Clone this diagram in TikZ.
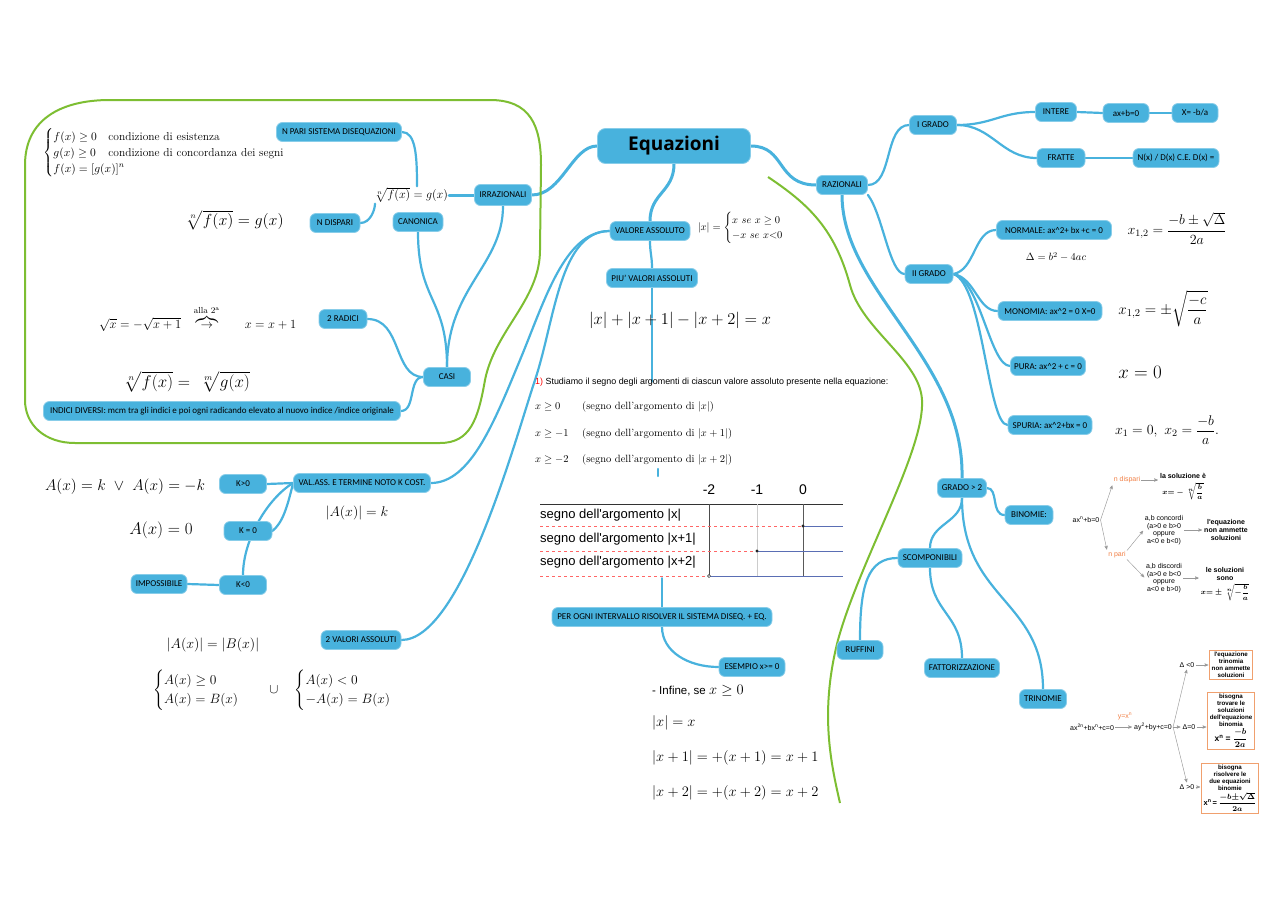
\documentclass[tikz,border=0pt]{standalone}
\usepackage{fix-cm}
\usepackage{amsmath,amssymb}
\usepackage{fontspec}
\setsansfont{Carlito}
\newfontfamily\headfont{Open Sans}
\newfontfamily\arialfont{Liberation Sans}
\usepackage{tikz}
\usetikzlibrary{arrows}
\usepackage{xcolor}

\definecolor{mapblue}{RGB}{72,178,221}
\definecolor{mapgreen}{RGB}{125,190,50}
\definecolor{noteorange}{RGB}{242,128,70}
\definecolor{boxorange}{RGB}{240,160,110}
\definecolor{signblue}{RGB}{90,110,180}

\pgfdeclarelayer{back}
\pgfsetlayers{back,main}

\begin{document}
\begin{tikzpicture}[x=1pt,y=-1pt,
  topic/.style={rectangle,rounded corners=6pt,fill=mapblue,draw=mapblue!65!white,
    line width=0.8pt,font=\sffamily\fontsize{9}{10.5}\selectfont,
    minimum height=19pt,inner xsep=2pt,inner ysep=2pt},
  conn/.style={draw=mapblue,line width=2.2pt,line cap=round},
  greenline/.style={draw=mapgreen,line width=2pt},
  formula/.style={inner sep=1pt},
  binote/.style={font=\arialfont\fontsize{7}{7.6}\selectfont,align=center,inner sep=1pt},
  answer/.style={draw=boxorange,line width=0.9pt,fill=white,align=center,
    font=\arialfont\bfseries\fontsize{6.2}{7}\selectfont,inner sep=2pt},
  pointer/.style={->,>=stealth',draw=gray!80,line width=0.45pt,shorten >=1pt}]

  \useasboundingbox (0,0) rectangle (1280,905);

  % root
  \node[topic,minimum width=153pt,minimum height=35pt,rounded corners=8pt,
    font=\headfont\bfseries\fontsize{19}{22}\selectfont] (eq) at (674,146) {Equazioni};

  % irrazionali
  \node[topic,minimum width=125pt] (npari) at (339,132) {N PARI SISTEMA DISEQUAZIONI};
  \node[formula,font=\fontsize{12}{14}\selectfont] (canform) at (411,195) {$\sqrt[n]{f(x)}=g(x)$};
  \node[topic,minimum width=57pt,minimum height=21pt] (irraz) at (503,195) {IRRAZIONALI};
  \node[topic,minimum width=50pt] (ndisp) at (335,223) {N DISPARI};
  \node[topic,minimum width=50pt] (canon) at (418,222) {CANONICA};
  \node[topic,minimum width=48pt] (radici) at (343,319) {2 RADICI};
  \node[topic,minimum width=47pt] (casi) at (447,377) {CASI};
  \node[topic,minimum width=357pt] (indici) at (222,411) {INDICI DIVERSI: mcm tra gli indici e poi ogni radicando elevato al nuovo indice /indice originale};

  \node[formula,anchor=west,font=\fontsize{11.5}{13.3}\selectfont] (sistema) at (42,153)
    {$\begin{cases} f(x)\geq 0 & \text{condizione di esistenza}\\
      g(x)\geq 0 & \text{condizione di concordanza dei segni}\\
      \rlap{$f(x)=[g(x)]^n$} \end{cases}$};
  \node[formula,font=\fontsize{16}{19}\selectfont] (rootbig) at (235,220) {$\sqrt[n]{f(x)}=g(x)$};
  \node[formula,anchor=base west,font=\fontsize{12.5}{15}\selectfont] (squared) at (98,328)
    {$\sqrt{x}=-\sqrt{x+1}\quad\overset{\text{alla }2^{\text{a}}}{\overbrace{\;\rightarrow\;}}\qquad x=x+1$};
  \node[formula,font=\fontsize{17}{20}\selectfont] (rootmix) at (187,382) {$\sqrt[n]{f(x)}=\;\sqrt[m]{g(x)}$};

  % valore assoluto
  \node[topic,minimum width=80pt] (valass) at (650,231) {VALORE ASSOLUTO};
  \node[formula,font=\fontsize{10.5}{12.5}\selectfont] (absdef) at (746,228)
    {$|x|=\begin{cases}x\ se\ x\geq 0\\ -x\ se\ x{<}0\end{cases}$};
  \node[topic,minimum width=91pt] (piuval) at (652,278) {PIU' VALORI ASSOLUTI};
  \node[formula,font=\fontsize{16.5}{19}\selectfont] (sumabs) at (680,320) {$|x|+|x+1|-|x+2|=x$};

  \node[formula,anchor=west,font=\arialfont\fontsize{8.9}{10.5}\selectfont] (studio) at (534,382)
    {\textcolor{red}{1)} Studiamo il segno degli argomenti di ciascun valore assoluto presente nella equazione:};
  \node[formula,anchor=west,font=\fontsize{10.5}{12}\selectfont] (segno0) at (534,407)
    {\makebox[47pt][l]{$x\geq 0$}(segno dell'argomento di $|x|$)};
  \node[formula,anchor=west,font=\fontsize{10.5}{12}\selectfont] (segno1) at (534,434)
    {\makebox[47pt][l]{$x\geq -1$}(segno dell'argomento di $|x+1|$)};
  \node[formula,anchor=west,font=\fontsize{10.5}{12}\selectfont] (segno2) at (534,460)
    {\makebox[47pt][l]{$x\geq -2$}(segno dell'argomento di $|x+2|$)};

  % sign chart
  \draw[gray!40!black,line width=0.6pt] (540,504) -- (843,504);
  \foreach \xv/\lab in {709/-2,757/-1,803/0}
    \node[font=\arialfont\fontsize{14}{16}\selectfont,inner sep=0pt] at (\xv,490) {\lab};
  \node[anchor=west,font=\arialfont\fontsize{13}{15}\selectfont,inner sep=0pt] (riga1) at (540,515) {segno dell'argomento |x|};
  \node[anchor=west,font=\arialfont\fontsize{13}{15}\selectfont,inner sep=0pt] (riga2) at (540,539) {segno dell'argomento |x+1|};
  \node[anchor=west,font=\arialfont\fontsize{13}{15}\selectfont,inner sep=0pt] (riga3) at (540,562) {segno dell'argomento |x+2|};
  \draw[gray!60!black,line width=0.6pt] (709,504) -- (709,576);
  \draw[gray!40,line width=0.6pt] (757,504) -- (757,576);
  \draw[gray!70!black,line width=0.6pt] (803,504) -- (803,576);
  \draw[red!60,dashed,line width=0.7pt] (540,526) -- (803,526);
  \draw[red!60,dashed,line width=0.7pt] (540,551) -- (757,551);
  \draw[red!60,dashed,line width=0.7pt] (540,576) -- (709,576);
  \draw[signblue,line width=0.8pt] (803,526) -- (843,526);
  \draw[signblue,line width=0.8pt] (757,551) -- (843,551);
  \draw[signblue,line width=0.8pt] (709,576) -- (843,576);
  \fill[gray!30!black] (803,526) circle (1.6pt);
  \fill[gray!30!black] (757,551) circle (1.6pt);
  \draw[gray!30!black,fill=white,line width=0.5pt] (709,576) circle (1.6pt);

  \node[topic,minimum width=220pt] (perogni) at (662,617) {PER OGNI INTERVALLO RISOLVER IL SISTEMA DISEQ. + EQ.};
  \node[topic,minimum width=66pt] (esempio) at (752,667) {ESEMPIO x>= 0};
  \node[formula,anchor=west] (infine) at (651,691)
    {{\arialfont\fontsize{11.5}{13}\selectfont - Infine, se} {\fontsize{14.5}{17}\selectfont$x\geq 0$}};
  \node[formula,anchor=west,font=\fontsize{14.5}{17}\selectfont] (eqa) at (651,723) {$|x|=x$};
  \node[formula,anchor=west,font=\fontsize{14.5}{17}\selectfont] (eqb) at (651,758) {$|x+1|=+(x+1)=x+1$};
  \node[formula,anchor=west,font=\fontsize{14.5}{17}\selectfont] (eqc) at (651,793) {$|x+2|=+(x+2)=x+2$};

  % costante k
  \node[topic,minimum width=47pt] (kpos) at (243,484) {K>0};
  \node[topic,minimum width=137pt] (valk) at (362,483) {VAL.ASS. E TERMINE NOTO K COST.};
  \node[topic,minimum width=48pt] (kzero) at (248,531) {K = 0};
  \node[topic,minimum width=56pt] (impos) at (159,584) {IMPOSSIBILE};
  \node[topic,minimum width=47pt] (kneg) at (243,585) {K<0};
  \node[topic,minimum width=80pt] (duevalori) at (361,640) {2 VALORI ASSOLUTI};
  \node[formula,font=\fontsize{15.5}{18}\selectfont] (akk) at (125,487) {$A(x)=k\ \vee\ A(x)=-k$};
  \node[formula,font=\fontsize{14}{16}\selectfont] (absak) at (357,513) {$|A(x)|=k$};
  \node[formula,font=\fontsize{17}{20}\selectfont] (azero) at (161,530) {$A(x)=0$};
  \node[formula,font=\fontsize{14}{16}\selectfont] (absab) at (213,645) {$|A(x)|=|B(x)|$};
  \node[formula,font=\fontsize{13.5}{15.5}\selectfont] (sistemi) at (279,690)
    {$\begin{cases}A(x)\geq 0\\ A(x)=B(x)\end{cases}\quad\cup\quad
      \begin{cases}A(x)<0\\ -A(x)=B(x)\end{cases}$};

  % razionali
  \node[topic,minimum width=51pt] (razion) at (842,185) {RAZIONALI};
  \node[topic,minimum width=47pt] (igrado) at (933,125) {I GRADO};
  \node[topic,minimum width=41pt] (intere) at (1056,112) {INTERE};
  \node[topic,minimum width=46pt] (axb) at (1126,113) {ax+b=0};
  \node[topic,minimum width=46pt] (xba) at (1195,113) {X= -b/a};
  \node[topic,minimum width=48pt] (fratte) at (1061,158) {FRATTE};
  \node[topic,minimum width=86pt] (nxdx) at (1176,158) {N(x) / D(x) C.E. D(x) =};
  \node[topic,minimum width=115pt] (normale) at (1054,230) {NORMALE: ax\textasciicircum{}2+ bx +c = 0};
  \node[topic,minimum width=48pt] (iigrado) at (929,274) {II GRADO};
  \node[topic,minimum width=104pt] (monomia) at (1050,311) {MONOMIA: ax\textasciicircum{}2 = 0 X=0};
  \node[topic,minimum width=75pt] (pura) at (1048,366) {PURA: ax\textasciicircum{}2 + c = 0};
  \node[topic,minimum width=84pt] (spuria) at (1050,425) {SPURIA: ax\textasciicircum{}2+bx = 0};
  \node[formula,font=\fontsize{14}{17}\selectfont] (quadform) at (1177,228) {$x_{1,2}=\dfrac{-b\pm\sqrt{\Delta}}{2a}$};
  \node[formula,font=\fontsize{10.5}{12}\selectfont] (deltaf) at (1056,257) {$\Delta=b^2-4ac$};
  \node[formula,font=\fontsize{15}{18}\selectfont] (monform) at (1163,309) {$x_{1,2}=\pm\sqrt{\dfrac{-c}{a}}$};
  \node[formula,font=\fontsize{19}{22}\selectfont] (puraform) at (1140,372) {$x=0$};
  \node[formula,font=\fontsize{14}{17}\selectfont] (spurform) at (1167,430) {$x_1=0,\ x_2=\dfrac{-b}{a}.$};

  \node[topic,minimum width=49pt] (gradotre) at (962,488) {GRADO > 2};
  \node[topic,minimum width=48pt] (binomie) at (1029,515) {BINOMIE:};
  \node[topic,minimum width=64pt] (scomp) at (930,558) {SCOMPONIBILI};
  \node[topic,minimum width=46pt] (ruffini) at (860,650) {RUFFINI};
  \node[topic,minimum width=75pt] (fattor) at (962,668) {FATTORIZZAZIONE};
  \node[topic,minimum width=47pt] (trinomie) at (1043,699) {TRINOMIE};

  % binomie
  \node[binote] (binq) at (1086,520) {ax\textsuperscript{n}+b=0};
  \node[binote,text=noteorange] (ndispari) at (1127,480) {n dispari};
  \node[binote,font=\arialfont\bfseries\fontsize{7}{8}\selectfont] (solodd) at (1183,487)
    {la soluzione è\\[3pt]{\boldmath$x{=}-\sqrt[n]{\dfrac{b}{a}}$}};
  \node[binote,text=noteorange] (npari2) at (1117,555) {n pari};
  \node[binote] (conc) at (1164,530) {a,b concordi\\(a>0 e b>0\\oppure\\a<0 e b<0)};
  \node[binote,font=\arialfont\bfseries\fontsize{7}{7.6}\selectfont] (concres) at (1226,530) {l'equazione\\non ammette\\soluzioni};
  \node[binote] (disc) at (1164,578) {a,b discordi\\(a>0 e b<0\\oppure\\a<0 e b>0)};
  \node[binote,font=\arialfont\bfseries\fontsize{7}{8}\selectfont] (discres) at (1225,584)
    {le soluzioni\\sono\\[2pt]{\boldmath$x{=}\pm\sqrt[n]{-\dfrac{b}{a}}$}};

  \draw[pointer] (binq.east) -- (ndispari.south west);
  \draw[pointer] (binq.east) -- (npari2.north west);
  \draw[pointer] (ndispari.east) -- (ndispari.east -| solodd.west);
  \draw[pointer] (npari2.north east) -- (conc.west);
  \draw[pointer] (npari2.south east) -- (disc.west);
  \draw[pointer] (conc.east) -- (conc.east -| concres.west);
  \draw[pointer] (disc.east) -- (disc.east -| discres.west);

  % trinomie
  \node[binote] (trinq) at (1092,727) {ax\textsuperscript{2n}+bx\textsuperscript{n}+c=0};
  \node[binote,text=noteorange] (subst) at (1125,716) {y=x\textsuperscript{n}};
  \node[binote] (trinq2) at (1153,727) {ay\textsuperscript{2}+by+c=0};
  \node[binote] (dneg) at (1187,665) {Δ <0};
  \node[binote] (dzero) at (1189,727) {Δ=0};
  \node[binote] (dpos) at (1187,787) {Δ >0};
  \node[answer] (bx1) at (1231,665) {l'equazione\\trinomia\\non ammette\\soluzioni};
  \node[answer] (bx2) at (1231,721) {bisogna\\trovare le\\soluzioni\\dell'equazione\\binomia\\[1pt]
    {\fontsize{8.5}{10}\selectfont\boldmath x\textsuperscript{n} = $\dfrac{-b}{2a}$}};
  \node[answer] (bx3) at (1230,788) {bisogna\\risolvere le\\due equazioni\\binomie\\[1pt]
    {\fontsize{7.5}{9}\selectfont\boldmath x\textsuperscript{n}\,=\,$\dfrac{-b{\pm}\sqrt{\Delta}}{2a}$}};

  \draw[pointer] (trinq.east) -- (trinq2.west);
  \draw[pointer] (trinq2.east) -- (dzero.west);
  \draw[pointer] (trinq2.east) -- (dneg.south);
  \draw[pointer] (trinq2.east) -- (dpos.north);
  \draw[pointer] (dneg.east) -- (dneg.east -| bx1.west);
  \draw[pointer] (dzero.east) -- (dzero.east -| bx2.west);
  \draw[pointer] (dpos.east) -- (dpos.east -| bx3.west);

  \begin{pgfonlayer}{back}
    \fill[white] (0,0) rectangle (1280,905);
    % irrazionali
    \draw[conn,line width=3pt] (irraz.east) .. controls +(30,0) and +(-25,0) .. (eq.west);
    \draw[conn,line width=3pt] (irraz.west) -- (canform.east);
    \draw[conn] (npari.east) .. controls +(14,0) and +(0,-30) .. ([xshift=6pt]canform.north);
    \draw[conn] (ndisp.east) .. controls +(10,0) and +(0,6) .. ([xshift=-36pt]canform.south);
    \draw[conn] (canon.south) .. controls +(0,70) and +(0,-70) .. (casi.north);
    \draw[conn] (irraz.south) .. controls +(0,60) and +(0,-80) .. (casi.north);
    \draw[conn] (radici.east) .. controls +(35,0) and +(-30,0) .. (casi.west);
    \draw[conn] (indici.east) .. controls +(15,0) and +(-15,0) .. (casi.west);
    % valore assoluto
    \draw[conn,line width=3pt] (eq.south) .. controls +(0,28) and +(0,-28) .. (valass.north);
    \draw[conn] (valass.south) .. controls +(0,12) and +(0,-12) .. (piuval.north);
    \draw[conn] (piuval.south) -- ([yshift=-7pt]piuval.south |- sumabs.north);
    \draw[conn] ([yshift=10pt]piuval.south |- sumabs.south) -- ([yshift=-5pt]piuval.south |- studio.north);
    \draw[conn] (valass.west) .. controls +(-45,0) and +(25,-60) .. (520,360)
      .. controls +(-25,60) and +(40,0) .. (valk.east);
    \draw[conn] (valass.west) .. controls +(-50,0) and +(20,-60) .. (535,380)
      .. controls +(-20,60) and +(60,0) .. (duevalori.east);
    \draw[conn] (valk.west) -- (kpos.east);
    \draw[conn] (valk.west) .. controls +(-6,25) and +(10,-8) .. (kzero.east);
    \draw[conn] (valk.west) .. controls +(-25,15) and +(0,-36) .. (kneg.north);
    \draw[conn] (impos.east) -- (kneg.west);
    \draw[conn] (658,469) -- (658,476);
    \draw[conn] (perogni.north) -- ++(0,-29);
    \draw[conn] (perogni.south) .. controls +(0,25) and +(-30,0) .. (esempio.west);
    % razionali
    \draw[conn,line width=3pt] (eq.east) .. controls +(35,0) and +(-40,0) .. (razion.west);
    \draw[conn] (razion.east) .. controls +(25,0) and +(-25,0) .. (igrado.west);
    \draw[conn] (razion.south east) .. controls +(15,20) and +(-15,0) .. (iigrado.west);
    \draw[conn,line width=3pt] (razion.south) .. controls +(0,96) and +(3,-118) .. (gradotre.north);
    \draw[conn] (igrado.east) .. controls +(35,0) and +(-35,0) .. (intere.west);
    \draw[conn] (igrado.east) .. controls +(35,0) and +(-35,0) .. (fratte.west);
    \draw[conn] (intere.east) -- (axb.west);
    \draw[conn] (axb.east) -- (xba.west);
    \draw[conn] (fratte.east) -- (nxdx.west);
    \draw[conn] (iigrado.east) .. controls +(22,-4) and +(-22,0) .. (normale.west);
    \draw[conn] (iigrado.east) .. controls +(22,4) and +(-20,0) .. (monomia.west);
    \draw[conn] (iigrado.east) .. controls +(27,6) and +(-20,0) .. (pura.west);
    \draw[conn] (iigrado.east) .. controls +(30,10) and +(-20,0) .. (spuria.west);
    \draw[conn] (gradotre.east) .. controls +(12,0) and +(-14,0) .. (binomie.west);
    \draw[conn] (gradotre.south) .. controls +(0,25) and +(0,-25) .. (scomp.north);
    \draw[conn] (gradotre.south) .. controls +(0,102) and +(0,-90) .. (trinomie.north);
    \draw[conn] (scomp.west) .. controls +(-30,0) and +(0,-55) .. (ruffini.north);
    \draw[conn] (scomp.south) .. controls +(0,45) and +(0,-45) .. (fattor.north);
    % group borders
    \draw[greenline] (25,400) -- (25,165) .. controls (25,120) and (60,100) .. (110,100)
      -- (490,100) .. controls (530,100) and (541,125) .. (541,165) -- (540,250)
      .. controls (540,300) and (495,330) .. (485,380) .. controls (478,420) and (470,443) .. (440,443)
      -- (75,443) .. controls (45,443) and (25,425) .. (25,400) -- cycle;
    \draw[greenline] (768,177) .. controls (810,205) and (835,230) .. (850,285)
      .. controls (862,330) and (920,360) .. (922,400) .. controls (925,450) and (860,560) .. (838,640)
      .. controls (820,710) and (830,760) .. (840,803);
  \end{pgfonlayer}
\end{tikzpicture}
\end{document}
